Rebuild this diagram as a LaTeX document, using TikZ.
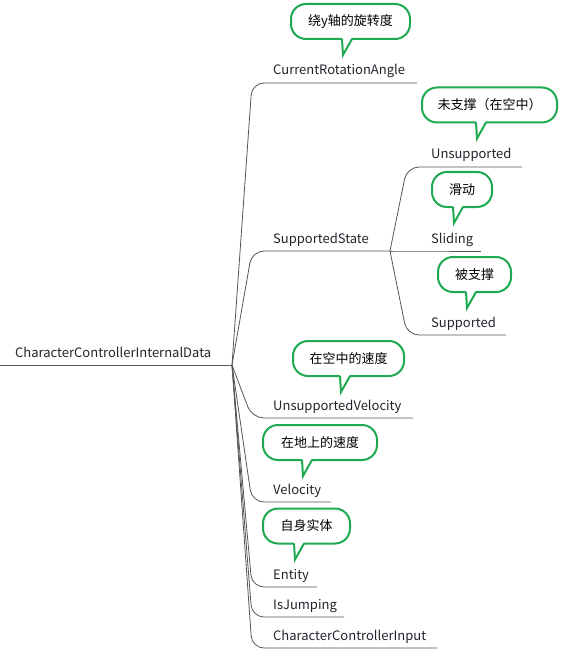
\documentclass[tikz,border=0pt]{standalone}
\usepackage{fontspec}
\setmainfont{Noto Sans CJK SC}

\definecolor{linegray}{RGB}{85,85,85}
\definecolor{notegreen}{RGB}{30,170,80}
\definecolor{labelink}{RGB}{35,35,45}

\tikzset{
  lbl/.style={anchor=base west, inner sep=0pt, text=labelink, font=\fontsize{13}{15}\selectfont},
  edge/.style={draw=linegray, line width=0.8pt, rounded corners=12pt},
  notebox/.style={draw=notegreen, line width=2pt, rounded corners=15pt, fill=white,
    minimum height=35pt, inner sep=0pt, outer sep=0pt, font=\fontsize{13}{15}\selectfont},
  notetail/.style={draw=notegreen, line width=2pt, line join=miter}
}

% name, centre, width, tip offset, text
\newcommand{\notecallout}[5]{%
  \node[notebox, minimum width=#3pt] (#1) at (#2) {#5};
  \fill[white] ([shift={(#4-1,-2)}]#1.south) -- ([shift={(#4,16)}]#1.south) -- ([shift={(#4+9,-2)}]#1.south) -- cycle;
  \draw[notetail] ([shift={(#4-1,0)}]#1.south) -- ([shift={(#4,16)}]#1.south) -- ([shift={(#4+9,0)}]#1.south);
}

\begin{document}
\begin{tikzpicture}[x=1pt,y=-1pt]
\useasboundingbox (0,0) rectangle (579,663);

% root
\node [lbl] (root) at (15,357) {CharacterControllerInternalData};
\coordinate (rootL) at (0,365);
\coordinate (hub) at (232,365);
\draw [edge] (rootL) -- (hub);

% first level
\foreach \nm/\txt/\uy/\ue in {cra/CurrentRotationAngle/83/417, ss/SupportedState/251/390,
    uv/UnsupportedVelocity/418/413, vel/Velocity/502/331, ent/Entity/587/317,
    jump/IsJumping/617/344, cci/CharacterControllerInput/648/437}
{
  \node [lbl] (\nm) at (273,\uy-8) {\txt};
  \coordinate (\nm-end) at (\ue,\uy);
  \draw [edge] (hub) -- (252,\uy) -- (\nm-end);
}

% SupportedState
\foreach \nm/\txt/\uy/\ue in {uns/Unsupported/167/522, sld/Sliding/251/481, sup/Supported/335/506}
{
  \node [lbl] (\nm) at (431,\uy-8) {\txt};
  \coordinate (\nm-end) at (\ue,\uy);
  \draw [edge] (ss-end) -- (407,\uy) -- (\nm-end);
}

% notes
\notecallout{ncra}{350.5,21.5}{119}{-7.5}{绕y轴的旋转度}
\notecallout{nuns}{489.5,105}{135}{-12.5}{未支撑（在空中）}
\notecallout{nsld}{462,189.5}{60}{-8}{滑动}
\notecallout{nsup}{474.5,274.5}{73}{-7.5}{被支撑}
\notecallout{nuv}{348.5,358.5}{111}{-7.5}{在空中的速度}
\notecallout{nvel}{320,442.5}{114}{-17}{在地上的速度}
\notecallout{nent}{306.5,526}{87}{-11.5}{自身实体}

\end{tikzpicture}
\end{document}
